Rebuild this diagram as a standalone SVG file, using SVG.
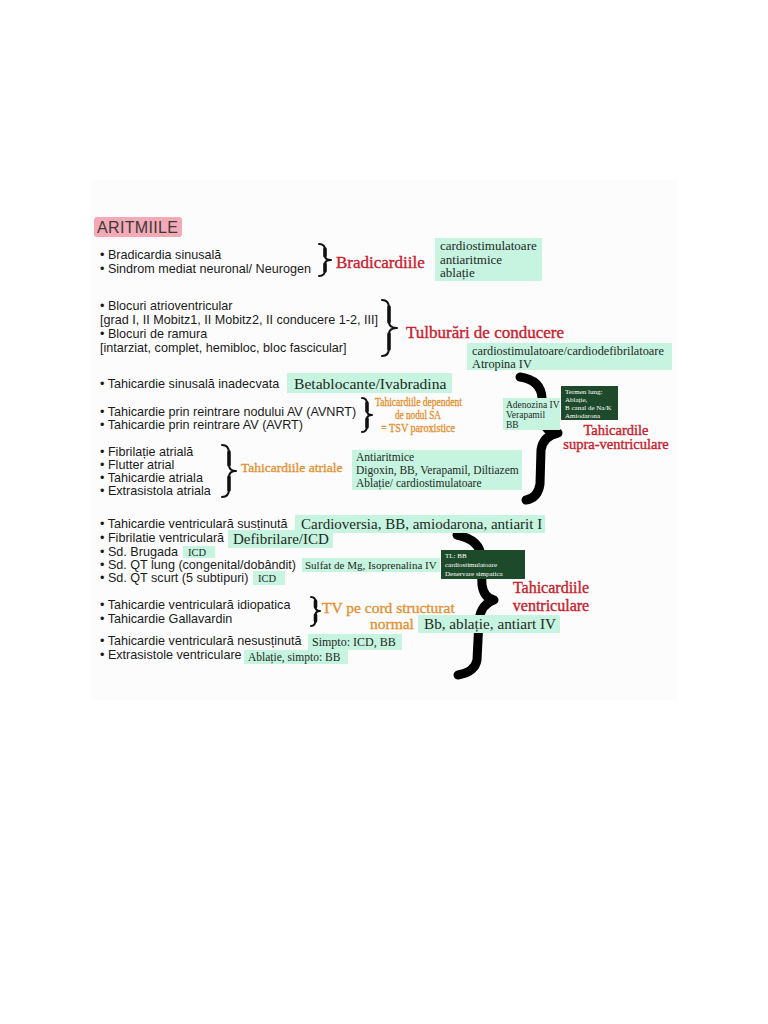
<svg xmlns="http://www.w3.org/2000/svg" width="768" height="1024" viewBox="0 0 768 1024">
<style>
.s{font-family:"Liberation Sans",Arial,sans-serif;font-size:12.6px;fill:#1a1a1a}
.r{font-family:"Liberation Serif","Times New Roman",serif;fill:#c8202c;stroke:#c8202c;stroke-width:0.35}
.o{font-family:"Liberation Serif","Times New Roman",serif;fill:#e38f2c;stroke:#e38f2c;stroke-width:0.3}
.g{fill:#c7f3e1}
.gt{font-family:"Liberation Serif","Times New Roman",serif;fill:#1c2a22}
.d{fill:#1d4a2a}
.dt{font-family:"Liberation Serif","Times New Roman",serif;fill:#fff;font-size:7px}
.br{fill:none;stroke:#111;stroke-width:2;stroke-linejoin:round;stroke-linecap:round}
.bt{fill:none;stroke:#111;stroke-width:3.6;stroke-linecap:round}
.bb{fill:none;stroke:#000;stroke-width:9;stroke-linecap:round;stroke-linejoin:round}
</style>
<rect x="0" y="0" width="768" height="1024" fill="#fff"/>
<rect x="90" y="180" width="587" height="520" fill="#fcfcfc"/>

<g id="title">
<rect x="94" y="217" width="88" height="20" rx="3" fill="#f4a9b6"/>
<text x="97" y="233" style="font-family:'Liberation Sans',Arial,sans-serif;font-size:16px;fill:#3a3a3a" textLength="81">ARITMIILE</text>
</g>

<g id="connectors">
<path class="br" d="M319 244 Q325 244 325 250 L325 256 Q325 260 331 260 Q325 260 325 264 L325 270 Q325 276 319 276"/>
<path class="bt" d="M325 249 L325 256 M325 264 L325 271"/>
<path class="br" d="M382 300 Q389 300 389 308 L389 322 Q389 328 397 328 Q389 328 389 334 L389 348 Q389 356 382 356"/>
<path class="bt" d="M389 307 L389 322 M389 334 L389 349"/>
<path class="br" d="M362 398 Q367 398 367 404 L367 411 Q367 415 372 415 Q367 415 367 419 L367 426 Q367 432 362 432"/>
<path class="bt" d="M367 403 L367 411 M367 419 L367 427"/>
<path class="br" d="M222 445 Q229 445 229 453 L229 465 Q229 471 236 471 Q229 471 229 477 L229 489 Q229 497 222 497"/>
<path class="bt" d="M229 452 L229 465 M229 477 L229 490"/>
<path class="br" d="M311 597 Q315.5 597 315.5 602 L315.5 607 Q315.5 611 320 611 Q315.5 611 315.5 615 L315.5 620 Q315.5 626 311 626"/>
<path class="bt" d="M315.5 601 L315.5 607 M315.5 615 L315.5 621"/>
<path class="bb" d="M520 377 Q541 380 542 398 L543 420 Q545 432 558 433 Q543 436 541 450 L540 484 Q538 498 526 500"/>
<path class="bb" d="M457 535 Q481 540 481 558 L482 585 Q484 598 494 600 Q481 604 479 620 L477 660 Q475 672 458 675"/>
</g>

<g id="bradi">
<text class="s" x="100" y="259">• Bradicardia sinusală</text>
<text class="s" x="100" y="273">• Sindrom mediat neuronal/ Neurogen</text>
<text class="r" x="336" y="268" font-size="17">Bradicardiile</text>
<rect class="g" x="435" y="238" width="107" height="43"/>
<text class="gt" x="440" y="250" font-size="13">cardiostimulatoare</text>
<text class="gt" x="440" y="264" font-size="13">antiaritmice</text>
<text class="gt" x="440" y="277" font-size="13">ablație</text>
</g>

<g id="conducere">
<text class="s" x="100" y="310">• Blocuri atrioventricular</text>
<text class="s" x="100" y="324">[grad I, II Mobitz1, II Mobitz2, II conducere 1-2, III]</text>
<text class="s" x="100" y="338">• Blocuri de ramura</text>
<text class="s" x="100" y="352">[intarziat, complet, hemibloc, bloc fascicular]</text>
<text class="r" x="406" y="338" font-size="17">Tulburări de conducere</text>
<rect class="g" x="467" y="343" width="205" height="27"/>
<text class="gt" x="472" y="355" font-size="12.3">cardiostimulatoare/cardiodefibrilatoare</text>
<text class="gt" x="472" y="368" font-size="12.3">Atropina IV</text>
</g>

<g id="supra">
<text class="s" x="100" y="388">• Tahicardie sinusală inadecvata</text>
<rect class="g" x="287" y="373" width="165" height="20"/>
<text class="gt" x="294" y="389" font-size="15.6">Betablocante/Ivabradina</text>
<text class="s" x="100" y="416">• Tahicardie prin reintrare nodului AV (AVNRT)</text>
<text class="s" x="100" y="429">• Tahicardie prin reintrare AV (AVRT)</text>
<text class="o" x="375" y="406" font-size="11.5" textLength="87" lengthAdjust="spacingAndGlyphs">Tahicardiile dependent</text>
<text class="o" x="395" y="419" font-size="11.5" textLength="46" lengthAdjust="spacingAndGlyphs">de nodul SA</text>
<text class="o" x="381" y="432" font-size="11.5" textLength="74" lengthAdjust="spacingAndGlyphs">= TSV paroxistice</text>
<rect class="g" x="503" y="398" width="57" height="32"/>
<text class="gt" x="506" y="408" font-size="9.5">Adenozina IV</text>
<text class="gt" x="506" y="418" font-size="9.5">Verapamil</text>
<text class="gt" x="506" y="428" font-size="9.5">BB</text>
<rect class="d" x="561" y="386" width="57" height="34"/>
<text class="dt" x="565" y="394">Termen lung:</text>
<text class="dt" x="565" y="402">Ablație,</text>
<text class="dt" x="565" y="410">B canal de Na/K</text>
<text class="dt" x="565" y="418">Amiodarona</text>
<text class="r" x="616" y="435" font-size="14.5" text-anchor="middle">Tahicardile</text>
<text class="r" x="616" y="449" font-size="14.5" text-anchor="middle">supra-ventriculare</text>
</g>

<g id="atriale">
<text class="s" x="100" y="456">• Fibrilație atrială</text>
<text class="s" x="100" y="469">• Flutter atrial</text>
<text class="s" x="100" y="482">• Tahicardie atriala</text>
<text class="s" x="100" y="495">• Extrasistola atriala</text>
<text class="o" x="241" y="472" font-size="13.5">Tahicardiile atriale</text>
<rect class="g" x="352" y="450" width="170" height="40"/>
<text class="gt" x="356" y="461" font-size="11.5">Antiaritmice</text>
<text class="gt" x="356" y="474" font-size="11.5">Digoxin, BB, Verapamil, Diltiazem</text>
<text class="gt" x="356" y="487" font-size="11.5">Ablație/ cardiostimulatoare</text>
</g>

<g id="ventriculare">
<text class="s" x="100" y="528">• Tahicardie ventriculară susținută</text>
<rect class="g" x="295" y="515" width="250" height="18"/>
<text class="gt" x="301" y="529" font-size="15">Cardioversia, BB, amiodarona, antiarit I</text>
<text class="s" x="100" y="542">• Fibrilatie ventriculară</text>
<rect class="g" x="228" y="530" width="105" height="18"/>
<text class="gt" x="233" y="544" font-size="15">Defibrilare/ICD</text>
<text class="s" x="100" y="556">• Sd. Brugada</text>
<rect class="g" x="183" y="546" width="32" height="12"/>
<text class="gt" x="188" y="556" font-size="10.5">ICD</text>
<text class="s" x="100" y="569">• Sd. QT lung (congenital/dobândit)</text>
<rect class="g" x="302" y="558" width="138" height="14"/>
<text class="gt" x="305" y="569" font-size="11">Sulfat de Mg, Isoprenalina IV</text>
<rect class="d" x="441" y="550" width="84" height="29"/>
<text class="dt" x="445" y="558">TL: BB</text>
<text class="dt" x="445" y="567">cardiostimulatoare</text>
<text class="dt" x="445" y="576">Denervare simpatica</text>
<text class="s" x="100" y="582">• Sd. QT scurt (5 subtipuri)</text>
<rect class="g" x="253" y="571" width="32" height="14"/>
<text class="gt" x="258" y="582" font-size="10.5">ICD</text>
<text class="r" x="551" y="593" font-size="16" text-anchor="middle">Tahicardiile</text>
<text class="r" x="551" y="611" font-size="16" text-anchor="middle">ventriculare</text>
<text class="s" x="100" y="609">• Tahicardie ventriculară idiopatica</text>
<text class="s" x="100" y="623">• Tahicardie Gallavardin</text>
<text class="o" x="322" y="613" font-size="15.5">TV pe cord structurat</text>
<text class="o" x="370" y="629" font-size="15.5">normal</text>
<rect class="g" x="418" y="615" width="142" height="18"/>
<text class="gt" x="424" y="629" font-size="15.2">Bb, ablație, antiart IV</text>
<text class="s" x="100" y="645">• Tahicardie ventriculară nesusținută</text>
<rect class="g" x="308" y="634" width="94" height="16"/>
<text class="gt" x="312" y="646" font-size="12">Simpto: ICD, BB</text>
<text class="s" x="100" y="659">• Extrasistole ventriculare</text>
<rect class="g" x="244" y="650" width="104" height="14"/>
<text class="gt" x="248" y="661" font-size="11.5">Ablație, simpto: BB</text>
</g>
</svg>
